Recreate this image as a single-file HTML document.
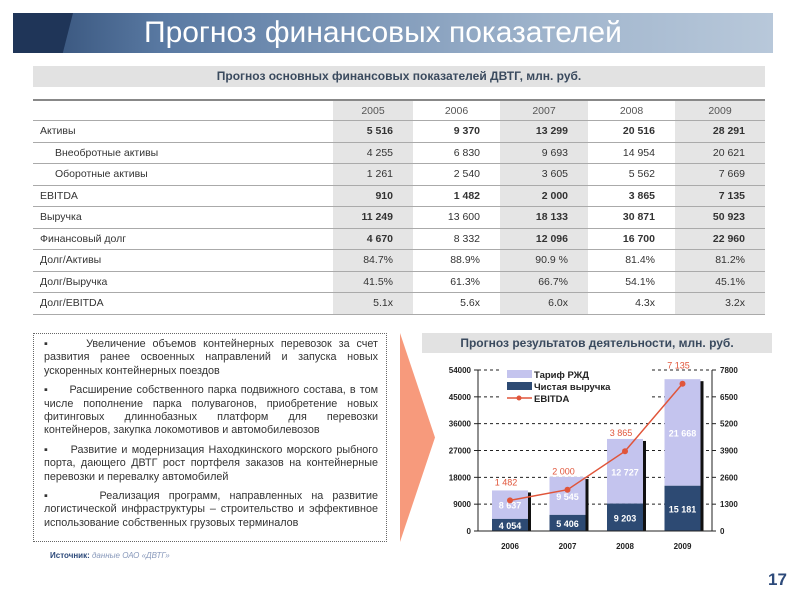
<!DOCTYPE html>
<html><head><meta charset="utf-8"><style>
body{margin:0;width:800px;height:600px;background:#fff;position:relative;overflow:hidden;font-family:"Liberation Sans","DejaVu Sans",sans-serif;}
.abs{position:absolute;}
#title{left:13px;top:13px;width:760px;height:40px;background:linear-gradient(90deg,#2e4a72 0%,#5a7aa3 20%,#9fb4cc 70%,#b8c8da 100%);}
#title span{position:absolute;left:131px;top:3px;color:#fff;font-size:30px;}
#slash{left:13px;top:13px;width:60px;height:40px;background:#1f3558;clip-path:polygon(0 0,100% 0,83% 100%,0 100%);}
#sub{left:33px;top:66px;width:732px;height:21px;background:#e2e2e2;text-align:center;font-size:12px;font-weight:bold;color:#3a4a5e;line-height:21px;}
table{position:absolute;left:33px;top:99px;border-collapse:collapse;font-size:10.5px;color:#333;}
td{height:20.5px;padding:0;border-bottom:1px solid #aaa;}
tr:first-child td{border-top:2px solid #888;height:19px;color:#555;}
td.l{width:293px;padding-left:7px;}
td.i{padding-left:22px;width:278px;}
td.v{text-align:right;padding-right:20px;}
td.s{background:#e5e5e5;}
.b{font-weight:bold;}
#box{left:33px;top:333px;width:352px;height:207px;border:1px dotted #666;font-size:10.8px;color:#333;line-height:13.4px;}
#box p{margin:4px 8px 6px 10px;text-align:justify;}
#arrow{left:400px;top:333px;width:35px;height:209px;background:#f79a7c;clip-path:polygon(0 0,100% 50%,0 100%);}
#chh{left:422px;top:333px;width:350px;height:20px;background:#e2e2e2;font-size:12px;font-weight:bold;color:#3a4a5e;text-align:center;line-height:20px;}
</style></head><body>
<div id="title" class="abs"><span>Прогноз финансовых показателей</span></div>
<div id="slash" class="abs"></div>
<div id="sub" class="abs">Прогноз основных финансовых показателей ДВТГ, млн. руб.</div>
<table>
<tr><td class="l"></td><td class="v s" style="width:60px;text-align:center;padding:0 10px">2005</td><td style="width:87px;text-align:center">2006</td><td class="s" style="width:88px;text-align:center">2007</td><td style="width:87px;text-align:center">2008</td><td class="s" style="width:90px;text-align:center">2009</td></tr>
<tr><td class="l">Активы</td><td class="v s b">5 516</td><td class="v b">9 370</td><td class="v s b">13 299</td><td class="v b">20 516</td><td class="v s b">28 291</td></tr>
<tr><td class="i">Внеобротные активы</td><td class="v s">4 255</td><td class="v">6 830</td><td class="v s">9 693</td><td class="v">14 954</td><td class="v s">20 621</td></tr>
<tr><td class="i">Оборотные активы</td><td class="v s">1 261</td><td class="v">2 540</td><td class="v s">3 605</td><td class="v">5 562</td><td class="v s">7 669</td></tr>
<tr><td class="l">EBITDA</td><td class="v s b">910</td><td class="v b">1 482</td><td class="v s b">2 000</td><td class="v b">3 865</td><td class="v s b">7 135</td></tr>
<tr><td class="l">Выручка</td><td class="v s b">11 249</td><td class="v">13 600</td><td class="v s b">18 133</td><td class="v b">30 871</td><td class="v s b">50 923</td></tr>
<tr><td class="l">Финансовый долг</td><td class="v s b">4 670</td><td class="v">8 332</td><td class="v s b">12 096</td><td class="v b">16 700</td><td class="v s b">22 960</td></tr>
<tr><td class="l">Долг/Активы</td><td class="v s">84.7%</td><td class="v">88.9%</td><td class="v s">90.9 %</td><td class="v">81.4%</td><td class="v s">81.2%</td></tr>
<tr><td class="l">Долг/Выручка</td><td class="v s">41.5%</td><td class="v">61.3%</td><td class="v s">66.7%</td><td class="v">54.1%</td><td class="v s">45.1%</td></tr>
<tr><td class="l">Долг/EBITDA</td><td class="v s">5.1x</td><td class="v">5.6x</td><td class="v s">6.0x</td><td class="v">4.3x</td><td class="v s">3.2x</td></tr>
</table>
<div id="box" class="abs">
<p>▪&nbsp;&nbsp;&nbsp;&nbsp; Увеличение объемов контейнерных перевозок за счет развития ранее освоенных направлений и запуска новых ускоренных контейнерных поездов</p>
<p>▪&nbsp;&nbsp;&nbsp;&nbsp; Расширение собственного парка подвижного состава, в том числе пополнение парка полувагонов, приобретение новых фитинговых длиннобазных платформ для перевозки контейнеров, закупка локомотивов и автомобилевозов</p>
<p>▪&nbsp;&nbsp;&nbsp;&nbsp; Развитие и модернизация Находкинского морского рыбного порта, дающего ДВТГ рост портфеля заказов на контейнерные перевозки и перевалку автомобилей</p>
<p>▪&nbsp;&nbsp;&nbsp;&nbsp; Реализация программ, направленных на развитие логистической инфраструктуры – строительство и эффективное использование собственных грузовых терминалов</p>
</div>
<div class="abs" style="left:50px;top:551px;font-size:8px;color:#8899bb;font-style:italic"><b style="color:#2d4a7a;font-style:normal">Источник:</b> данные ОАО «ДВТГ»</div>
<div id="arrow" class="abs"></div>
<div id="chh" class="abs">Прогноз результатов деятельности, млн. руб.</div>
<div class="abs" style="left:768px;top:570px;font-size:17px;font-weight:bold;color:#2d4a7a">17</div>
<svg id="chart" class="abs" style="left:420px;top:360px" width="360" height="200"></svg>
<script>
const years=["2006","2007","2008","2009"];
const netRevenue=[4054,5406,9203,15181];
const totalRevenue=[13600,18133,30871,50923];
const tariffLabels=["8 637","9 545","12 727","21 668"];
const netLabels=["4 054","5 406","9 203","15 181"];
const ebitda=[1482,2000,3865,7135];
const ebitdaLabels=["1 482","2 000","3 865","7 135"];
const leftTicks=[0,9000,18000,27000,36000,45000,54000];
const rightTicks=[0,1300,2600,3900,5200,6500,7800];
const NS="http://www.w3.org/2000/svg",svg=document.getElementById('chart');
const X0=58,X1=292,Y0=171,Y1=10;
const yL=v=>Y0-(v/54000)*(Y0-Y1), yR=v=>Y0-(v/7800)*(Y0-Y1);
const xC=i=>90+i*57.5;
function el(t,a,p){const e=document.createElementNS(NS,t);for(const k in a)e.setAttribute(k,a[k]);(p||svg).appendChild(e);return e;}
leftTicks.forEach((v,i)=>{
 if(i>0){const g=el('line',{x1:X0,x2:X1,y1:yL(v),y2:yL(v),stroke:'#222','stroke-dasharray':'3,3','stroke-width':1});}
 const t=el('text',{x:X0-7,y:yL(v)+3,'text-anchor':'end','font-size':8,'font-weight':'bold',fill:'#222'});t.textContent=v;
 
});
rightTicks.forEach(v=>{const t=el('text',{x:X1+8,y:yR(v)+3,'font-size':8,'font-weight':'bold',fill:'#222'});t.textContent=v;
 
 el('line',{x1:X1,x2:X1+4,y1:yR(v),y2:yR(v),stroke:'#222'});});
const lg=el('g',{});
el('rect',{x:80,y:4,width:150,height:44,fill:'#fff'},lg);
years.forEach((y,i)=>{
 const x=xC(i)-18,w=36;
 const sh=el('rect',{x:x+w,y:yL(totalRevenue[i])+2,width:3,height:Y0-yL(totalRevenue[i])-2,fill:'#111'});
 
 const top=el('rect',{x:x,y:yL(totalRevenue[i]),width:w,height:yL(netRevenue[i])-yL(totalRevenue[i]),fill:'#c4c4ee'});
 
 const bot=el('rect',{x:x,y:yL(netRevenue[i]),width:w,height:Y0-yL(netRevenue[i]),fill:'#2d4a73'});
 
 const t1=el('text',{x:xC(i),y:(yL(totalRevenue[i])+yL(netRevenue[i]))/2+4,'text-anchor':'middle','font-size':9,'font-weight':'bold',fill:'#fff'});t1.textContent=tariffLabels[i];
 
 const t2=el('text',{x:xC(i),y:(yL(netRevenue[i])+Y0)/2+4,'text-anchor':'middle','font-size':9,'font-weight':'bold',fill:'#fff'});t2.textContent=netLabels[i];
 
 const t3=el('text',{x:xC(i),y:Y0+18,'text-anchor':'middle','font-size':8,'font-weight':'bold',fill:'#222'});t3.textContent=y;
 
});
el('line',{x1:X0,x2:X0,y1:Y1,y2:Y0,stroke:'#222'});
el('line',{x1:X1,x2:X1,y1:Y1,y2:Y0,stroke:'#222'});
el('line',{x1:X0,x2:X1,y1:Y0,y2:Y0,stroke:'#222'});
leftTicks.forEach(v=>el('line',{x1:X0-4,x2:X0,y1:yL(v),y2:yL(v),stroke:'#222'}));
const ln=el('polyline',{points:ebitda.map((v,i)=>xC(i)+','+yR(v)).join(' '),fill:'none',stroke:'#e0553a','stroke-width':1.5});

ebitda.forEach((v,i)=>{const c=el('circle',{cx:xC(i),cy:yR(v),r:3,fill:'#e0553a'});
 
 const t=el('text',{x:xC(i)-4,y:yR(v)-15,'text-anchor':'middle','font-size':9,fill:'#e0553a'});t.textContent=ebitdaLabels[i];
 });
const lg2=el('g',{});
el('rect',{x:87,y:10,width:25,height:8,fill:'#c4c4ee'},lg2);
el('rect',{x:87,y:22,width:25,height:8,fill:'#2d4a73'},lg2);
el('line',{x1:87,x2:112,y1:38,y2:38,stroke:'#e0553a','stroke-width':1.5},lg2);
el('circle',{cx:99,cy:38,r:2.5,fill:'#e0553a'},lg2);
[["Тариф РЖД",18],["Чистая выручка",30],["EBITDA",42]].forEach(a=>{const t=el('text',{x:114,y:a[1],'font-size':9.5,'font-weight':'bold',fill:'#222'},lg2);t.textContent=a[0];});
</script>
</body></html>
